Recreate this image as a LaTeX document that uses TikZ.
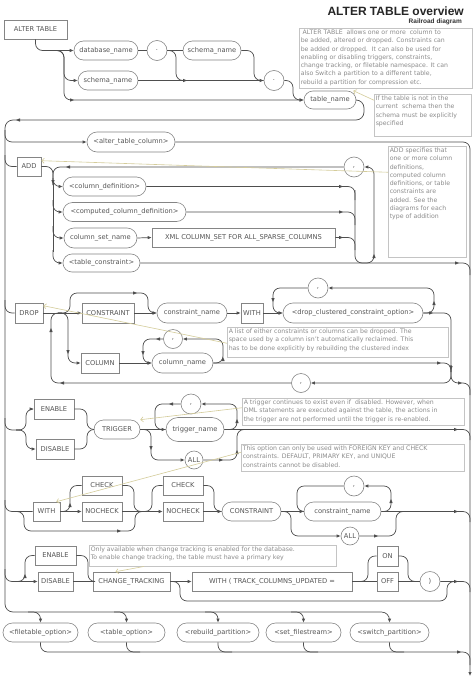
\documentclass[tikz,border=0pt]{standalone}
\usepackage{fontspec}
\setmainfont{DejaVu Sans}
\newfontfamily\titlefont{Liberation Sans}
\usetikzlibrary{arrows.meta}
\definecolor{ln}{HTML}{4E4E4E}
\definecolor{bd}{HTML}{858585}
\definecolor{tx}{HTML}{555555}
\definecolor{nt}{HTML}{8C8C8C}
\definecolor{nb}{HTML}{C4C4C4}
\definecolor{tanc}{HTML}{D4CC9A}
\newcommand\tipat[2]{\fill[ln, shift={#1}, rotate=#2] (0,0) -- (-4,1.7) -- (-4,-1.7) -- cycle;}
\tikzset{
  nbase/.style={draw=bd, line width=0.6pt, text=tx, font=\fontsize{6.7}{8}\selectfont, inner sep=0pt, minimum height=19pt},
  kw/.style={nbase, rectangle},
  term/.style={nbase, rectangle, rounded corners=9.5pt},
  dotn/.style={nbase, circle, minimum size=20pt},
  wire/.style={draw=ln, line width=0.7pt, rounded corners=7pt},
  into/.style={-{Latex[length=4pt,width=3.4pt]}},
  notebox/.style={draw=nb, line width=0.5pt, text=nt, font=\fontsize{6.2}{8.3}\selectfont, inner sep=1.5pt, anchor=north west},
  notelink/.style={draw=tanc, line width=0.6pt, {Straight Barb[length=2.5pt,width=5pt]}-},
}
\begin{document}
\begin{tikzpicture}[x=1pt,y=-1pt]
\fill[white] (0,0) rectangle (474,680);
\useasboundingbox (0,0) rectangle (474,680);

% title
\node[anchor=base east, font=\titlefont\bfseries\fontsize{12}{14}\selectfont, text=black!85, inner sep=0pt] (title) at (464,15.5) {ALTER TABLE overview};
\node[anchor=base east, font=\titlefont\bfseries\fontsize{6.5}{8}\selectfont, text=black!80, inner sep=0pt] (subtitle) at (462,23.5) {Railroad diagram};

% ---------- row 1
\node[kw, minimum width=63pt] (alter) at (35.5,29.5) {ALTER TABLE};
\node[term, minimum width=64pt] (db) at (106,50.5) {database\_name};
\node[dotn] (d1) at (157,50.5) {.};
\node[term, minimum width=58pt] (sch1) at (212,50.5) {schema\_name};
\node[term, minimum width=60pt] (sch2) at (108,80.5) {schema\_name};
\node[dotn] (d2) at (274,80.5) {.};
\node[term, minimum width=52pt, minimum height=18pt, rounded corners=9pt] (tbl) at (330,100) {table\_name};

\draw[wire, into] (alter.south) |- (db.west);
\draw[wire, into] (50,50.5) -| (64,80.5) -- (sch2.west);
\draw[wire, into] (50,50.5) -| (64,100) -- (tbl.west);
\tipat{(74,100)}{0}
\draw[wire] (db.east) -- (d1.west);
\draw[wire] (d1.east) -- (sch1.west);
\draw[wire] (d1.east) -| (176,80.5) -- (188,80.5);
\tipat{(187,80.5)}{0}
\draw[wire] (sch1.east) -| (254,80.5) -- (d2.west);
\draw[wire, into] (sch2.east) -- (d2.west);
\draw[wire, into] (d2.east) -| (293,100) -- (tbl.west);

% notes top
\node[notebox] (n1) at (299,28) {\parbox[t][57pt][t]{170pt}{\raggedright
\ ALTER TABLE\ \ allows one or more\ \ column to\\
be added, altered or dropped. Constraints can\\
be added or dropped.\ \ It can also be used for\\
enabling or disabling triggers, constraints,\\
change tracking, or filetable namespace. It can\\
also Switch a partition to a different table,\\
rebuild a partition for compression etc.}};
\node[notebox] (n2) at (374,94) {\parbox[t][39pt][t]{94pt}{\raggedright
If the table is not in the\\
current\ \ schema then the\\
schema must be explicitly\\
specified}};
\draw[notelink] ([xshift=-3pt]tbl.north east) -- ([yshift=15pt]n2.west);

% ---------- bottom options (declared early for trunk)
\node[term, minimum width=75pt] (fo) at (40.5,632.5) {<filetable\_option>};
\node[term, minimum width=77pt] (to) at (126.5,632.5) {<table\_option>};
\node[term, minimum width=82pt] (rbp) at (218,632.5) {<rebuild\_partition>};
\node[term, minimum width=75pt] (sf) at (303.5,632.5) {<set\_filestream>};
\node[term, minimum width=79pt] (sp) at (389.5,632.5) {<switch\_partition>};

% main left trunk
\draw[wire, rounded corners=8pt, into] (tbl.east) -| (364,120) -| (5,612) -| (sp.north);
\tipat{(16,120)}{180}

% ---------- alter_table_column
\node[term, minimum width=88pt, minimum height=20pt, rounded corners=10pt] (atc) at (131,142) {<alter\_table\_column>};
\draw[wire, into] (5,130) |- (atc.west);
\draw[wire, into] (atc.east) -| (470,676);

% ---------- ADD
\node[kw, minimum width=24pt] (add) at (29,166.5) {ADD};
\node[term, minimum width=83pt] (cd) at (104.5,186.5) {<column\_definition>};
\node[term, minimum width=123pt] (ccd) at (124.5,212) {<computed\_column\_definition>};
\node[term, minimum width=73pt, minimum height=20pt, rounded corners=10pt] (csn) at (100.5,238) {column\_set\_name};
\node[kw, minimum width=183pt] (xml) at (243.5,237.5) {XML COLUMN\_SET FOR ALL\_SPARSE\_COLUMNS};
\node[term, minimum width=77pt, minimum height=18pt, rounded corners=9pt] (tc) at (101.5,263) {<table\_constraint>};
\node[dotn] (c3) at (354,167) {,};

\draw[wire] (5,155) |- (add.west);
\draw[wire] (add.east) -| (53,185);
\draw[wire] (c3.west) -| (53,185);
\tipat{(66,167)}{180}
\tipat{(53,184)}{270}
\draw[wire] (53,180) -- (53,252);
\draw[wire, into] (53,178) |- (cd.west);
\draw[wire, into] (53,200) |- (ccd.west);
\draw[wire, into] (53,226) |- (csn.west);
\draw[wire, into] (53,250) |- (tc.west);
\draw[wire, into] (csn.east) -- (xml.west);
\draw[wire] (cd.east) -| (355,200);
\draw[wire] (ccd.east) -| (355,225);
\draw[wire] (xml.east) -| (355,250);
\tipat{(343,186.5)}{0}
\tipat{(343,212)}{0}
\tipat{(343,237.5)}{0}
\draw[wire, into] (355,190) |- (374,263) |- (c3.east);
\tipat{(374,254)}{90}
\draw[wire] (tc.east) -| (470,275);
\tipat{(459,263)}{0}

\node[notebox] (nadd) at (388,146) {\parbox[t][108pt][t]{75pt}{\raggedright
ADD specifies that\\ one or more column\\ definitions,\\ computed column\\ definitions, or table\\ constraints are\\ added. See the\\ diagrams for each\\ type of addition}};
\draw[notelink] ([yshift=-4pt]add.north east) -- ([yshift=29.5pt]nadd.west);

% ---------- DROP
\node[kw, minimum width=28pt, minimum height=20pt] (drop) at (29,313) {DROP};
\node[kw, minimum width=52pt, minimum height=20pt] (cons) at (108,313) {CONSTRAINT};
\node[term, minimum width=70pt, minimum height=20pt, rounded corners=10pt] (cn1) at (192,313) {constraint\_name};
\node[kw, minimum width=22pt, minimum height=20pt] (with1) at (252,313) {WITH};
\node[term, minimum width=140pt, minimum height=20pt, rounded corners=10pt] (dcco) at (353,313) {<drop\_clustered\_constraint\_option>};
\node[dotn] (c6) at (318,288) {,};
\node[kw, minimum width=38pt, minimum height=20pt] (column) at (100,363) {COLUMN};
\node[term, minimum width=61pt, minimum height=20pt, rounded corners=10pt] (coln) at (182.5,363) {column\_name};
\node[dotn, minimum size=19pt] (c5) at (173,339) {,};
\node[dotn, minimum size=19pt] (c4) at (301,383) {,};

\draw[wire] (5,300) |- (drop.west);
\draw[wire, into] (drop.east) -- (cons.west);
\draw[wire, into] (58,313) -| (70,293) -| (148,313) -- (cn1.west);
\tipat{(137,293)}{0}
\draw[wire, into] (cons.east) -- (cn1.west);
\draw[wire, into] (58,313) -| (68,363) -- (column.west);
\tipat{(68,354)}{270}
\draw[wire] (c4.west) -| (51,313) -- (62,313);
\tipat{(60,383)}{180}
\tipat{(51,328)}{90}
\draw[wire, into] (column.east) -- (coln.west);
\draw[wire, into] (coln.east) -| (223,339) -- (c5.east);
\tipat{(223,357)}{90}
\draw[wire, into] (c5.west) -| (143,363) -- (coln.west);
\tipat{(156,339)}{180}
\tipat{(143,355)}{270}
\draw[wire, into] (cn1.east) -- (with1.west);
\draw[wire, into] (with1.east) -- (dcco.west);
\draw[wire, into] (dcco.east) -| (434,288) -- (c6.east);
\tipat{(434,301)}{90}
\draw[wire, into] (c6.west) -| (273,313) -- (dcco.west);
\tipat{(273,302)}{270}
\draw[wire] (dcco.east) -| (451,372);
\tipat{(433,313)}{0}
\draw[wire] (coln.east) -| (451,372);
\tipat{(441,363)}{0}
\draw[wire, into] (451,365) |- (c4.east);
\tipat{(451,370)}{270}
\draw[wire] (451,365) |- (470,383) -- (470,395);
\tipat{(462,383)}{0}

\node[notebox] (ndrop) at (227,327) {\parbox[t][27pt][t]{218pt}{\raggedright
A list of either constraints or columns can be dropped. The\\
space used by a column isn't automatically reclaimed. This\\
has to be done explicitly by rebuilding the clustered index}};
\draw[notelink] ([yshift=-3pt]drop.north east) -- ([yshift=-1pt]ndrop.west);

% ---------- ENABLE / DISABLE TRIGGER
\node[kw, minimum width=40pt, minimum height=20pt] (en1) at (54,409) {ENABLE};
\node[kw, minimum width=38pt, minimum height=20pt] (dis1) at (55,449) {DISABLE};
\node[term, minimum width=46pt] (trig) at (117,429.5) {TRIGGER};
\node[term, minimum width=58pt, minimum height=24pt, rounded corners=12pt] (tn) at (195,429.5) {trigger\_name};
\node[dotn] (c7) at (191,404) {,};
\node[dotn, minimum size=18pt] (all1) at (194,460) {ALL};

\draw[wire] (5,418) |- (20,430);
\draw[wire, into] (16,430) -| (26,409) -- (en1.west);
\draw[wire, into] (16,430) -| (26,449) -- (dis1.west);
\draw[wire] (en1.east) -| (87,429.5) -- (trig.west);
\draw[wire] (dis1.east) -| (87,429.5) -- (trig.west);
\draw[wire, into] (trig.east) -- (tn.west);
\draw[wire, into] (tn.east) -| (237,404) -- (c7.east);
\tipat{(237,419)}{90}
\draw[wire] (c7.west) -| (155,429.5) -- (tn.west);
\tipat{(169,404)}{180}
\draw[wire, into] (143,429.5) -| (151,460) -- (all1.west);
\tipat{(151,450)}{270}
\draw[wire] (all1.east) -| (237,429.5) -- (245,429.5);
\tipat{(223,460)}{0}
\tipat{(237,450)}{90}
\draw[wire] (tn.east) -| (470,440);
\tipat{(458,429.5)}{0}

\node[notebox] (ntrig) at (242,398) {\parbox[t][24pt][t]{219pt}{\raggedright
A trigger continues to exist even if\ \ disabled. However, when\\
DML statements are executed against the table, the actions in\\
the trigger are not performed until the trigger is re-enabled.}};
\draw[notelink] (trig.north east) -- ([yshift=4pt]ntrig.west);

% ---------- WITH CHECK / NOCHECK CONSTRAINT
\node[kw, minimum width=27pt] (with2) at (46.5,511.5) {WITH};
\node[kw, minimum width=40pt] (chk1) at (102,485.5) {CHECK};
\node[kw, minimum width=40pt] (nchk1) at (102,511.5) {NOCHECK};
\node[kw, minimum width=40pt] (chk2) at (183,485.5) {CHECK};
\node[kw, minimum width=40pt] (nchk2) at (183,511.5) {NOCHECK};
\node[term, minimum width=59pt] (cons2) at (251.5,511.5) {CONSTRAINT};
\node[term, minimum width=77pt] (cn2) at (342.5,511.5) {constraint\_name};
\node[dotn] (c8) at (354,486) {,};
\node[dotn, minimum size=18pt] (all2) at (350,536) {ALL};

\draw[wire] (5,500) |- (with2.west);
\draw[wire] (14,511.5) -| (24,531) -| (135,511.5) -- (142,511.5);
\tipat{(121,531)}{0}
\draw[wire, into] (with2.east) -- (nchk1.west);
\draw[wire] (62,511.5) -| (70,485.5) -- (chk1.west);
\tipat{(70,503)}{90}
\draw[wire] (chk1.east) -| (134,511.5) -- (140,511.5);
\draw[wire, into] (nchk1.east) -- (nchk2.west);
\draw[wire] (143,511.5) -| (152,485.5) -- (chk2.west);
\draw[wire] (chk2.east) -| (214,511.5) -- (cons2.west);
\draw[wire, into] (nchk2.east) -- (cons2.west);
\draw[wire, into] (cons2.east) -- (cn2.west);
\draw[wire, into] (cn2.east) -| (391,486) -- (c8.east);
\tipat{(391,499)}{90}
\draw[wire] (c8.west) -| (297,511.5) -- (cn2.west);
\draw[wire, into] (284,511.5) -| (291,536) -- (all2.west);
\draw[wire] (all2.east) -| (396,511.5) -- (402,511.5);
\tipat{(378,536)}{0}
\draw[wire] (cn2.east) -| (470,522);
\tipat{(458,511.5)}{0}

\node[notebox] (nchk) at (241,444) {\parbox[t][24pt][t]{220pt}{\raggedright
This option can only be used with FOREIGN KEY and CHECK\\
constraints. DEFAULT, PRIMARY KEY, and UNIQUE\\
constraints cannot be disabled.}};
\draw[notelink] ([xshift=-4pt]with2.north east) -- ([yshift=5.5pt]nchk.west);

% ---------- CHANGE_TRACKING
\node[kw, minimum width=41pt] (en2) at (55.5,555.5) {ENABLE};
\node[kw, minimum width=35pt] (dis2) at (55.5,581.5) {DISABLE};
\node[kw, minimum width=77pt] (ct) at (131.5,581.5) {CHANGE\_TRACKING};
\node[kw, minimum width=160pt] (wtcu) at (272,581.5) {WITH ( TRACK\_COLUMNS\_UPDATED =};
\node[kw, minimum width=21pt, minimum height=20pt] (on) at (387.5,556) {ON};
\node[kw, minimum width=21pt] (off) at (387.5,581.5) {OFF};
\node[dotn] (rp) at (430,581.5) {)};

\draw[wire, into] (5,569) |- (dis2.west);
\draw[wire] (18,581.5) -| (25,555.5) -- (en2.west);
\tipat{(25,574)}{90}
\draw[wire] (en2.east) -| (88,581.5) -- (ct.west);
\draw[wire] (dis2.east) -- (ct.west);
\draw[wire, into] (ct.east) -- (wtcu.west);
\draw[wire] (173,581.5) -| (180,601) -| (447,581.5) -- (452,581.5);
\draw[wire] (wtcu.east) -- (off.west);
\draw[wire] (360,581.5) -| (368,556) -- (on.west);
\draw[wire] (on.east) -| (408,581.5) -- (rp.west);
\draw[wire] (off.east) -- (rp.west);
\draw[wire] (rp.east) -| (470,592);
\tipat{(458,581.5)}{0}

\node[notebox] (nct) at (89,545) {\parbox[t][18pt][t]{244pt}{\raggedright
Only available when change tracking is enabled for the database.\\
To enable change tracking, the table must have a primary key}};
\draw[notelink] ([xshift=-16pt]ct.north) -- ([xshift=-69pt]nct.south);

% ---------- bottom option branches
\draw[wire, into] (28,612) -| (fo.north);
\draw[wire, into] (114,612) -| (to.north);
\draw[wire, into] (205,612) -| (rbp.north);
\draw[wire, into] (291,612) -| (sf.north);
\draw[wire] (fo.south) |- (470,652) -- (470,665);
\draw[wire] (to.south) |- (140,652);
\draw[wire] (rbp.south) |- (232,652);
\draw[wire] (sf.south) |- (318,652);
\draw[wire] (sp.south) |- (404,652);
\tipat{(461,652)}{0}
\end{tikzpicture}
\end{document}
